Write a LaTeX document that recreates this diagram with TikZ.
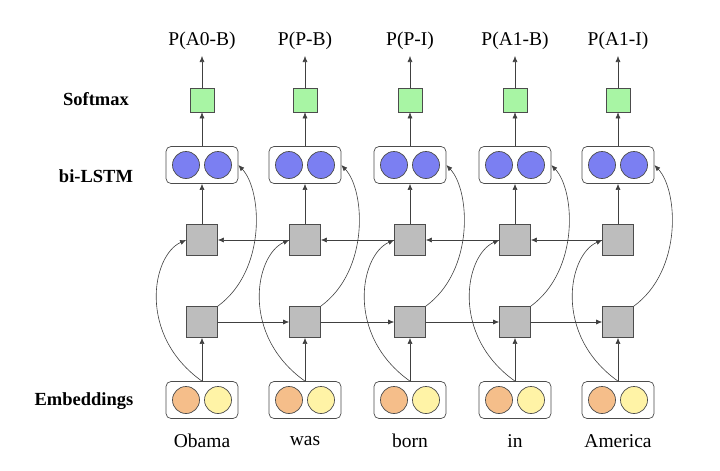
\documentclass[tikz,border=0pt]{standalone}
\usepackage{fontspec}
\setmainfont{Liberation Serif}
\usetikzlibrary{arrows.meta}
\definecolor{lstm}{HTML}{7B7FF2}
\definecolor{emba}{HTML}{F5BE8A}
\definecolor{embb}{HTML}{FFF3A6}
\definecolor{soft}{HTML}{A8F5A4}
\definecolor{hid}{HTML}{BDBDBD}
\begin{document}
\begin{tikzpicture}[x=1pt,y=-1pt,
  arr/.style={-{Latex[length=6pt,width=5pt]},black!75,line width=0.6pt},
  cont/.style={draw=black!70,rounded corners=5pt,minimum width=72pt,minimum height=37pt,fill=white,line width=0.7pt},
  circ/.style={circle,draw=black!70,minimum size=27pt,inner sep=0pt,line width=0.7pt},
  hbox/.style={draw=black!70,fill=hid,minimum size=31pt,inner sep=0pt,line width=0.7pt},
  sbox/.style={draw=black!70,fill=soft,minimum size=24pt,inner sep=0pt,line width=0.6pt},
  lab/.style={font=\bfseries\fontsize{18.5}{20}\selectfont},
  txt/.style={font=\fontsize{19.5}{21}\selectfont}]
\useasboundingbox (0,0) rectangle (720,471);
\node[lab] at (96,99) {Softmax};
\node[lab] at (96,176) {bi-LSTM};
\node[lab] at (84,401) {Embeddings};
\foreach \i/\x/\w/\p in {1/202/Obama/A0-B,2/305/was/P-B,3/410/born/P-I,4/515/in/A1-B,5/618/America/A1-I}{
  \node[cont] (e\i) at (\x,400) {};
  \node[circ,fill=emba] (ea\i) at (\x-16,400) {};
  \node[circ,fill=embb] (eb\i) at (\x+16,400) {};
  \node[txt] (w\i) at (\x,441) {\w};
  \node[hbox] (f\i) at (\x,322) {};
  \node[hbox] (b\i) at (\x,240) {};
  \node[cont] (l\i) at (\x,165) {};
  \node[circ,fill=lstm] (la\i) at (\x-16,165) {};
  \node[circ,fill=lstm] (lb\i) at (\x+16,165) {};
  \node[sbox] (s\i) at (\x,100) {};
  \node[txt,anchor=base] (p\i) at (\x,45) {P(\p)};
  \draw[arr] (e\i.north) -- (f\i.south);
  \draw[arr] (b\i.north) -- (l\i.south);
  \draw[arr] (l\i.north) -- (s\i.south);
  \draw[arr] (s\i.north) -- (\x,56);
  \draw[arr] (e\i.north) .. controls (\x-65,335) and (\x-50,255) .. (b\i.west);
  \draw[arr] (f\i.north east) .. controls (\x+65,270) and (\x+60,190) .. (l\i.east);
}
\foreach \i/\j in {1/2,2/3,3/4,4/5}{
  \draw[arr] (f\i.east) -- (f\j.west);
  \draw[arr] (b\j.west) -- (b\i.east);
}
\end{tikzpicture}
\end{document}
